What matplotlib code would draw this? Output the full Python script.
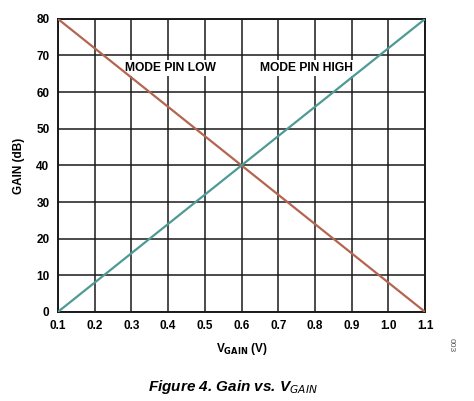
import numpy as np
import matplotlib.pyplot as plt

plt.rcParams['font.family'] = ['Liberation Sans', 'DejaVu Sans']

# data
v_gain = [0.1, 0.2, 0.3, 0.4, 0.5, 0.6, 0.7, 0.8, 0.9, 1.0, 1.1]
gain_high = [0, 8, 16, 24, 32, 40, 48, 56, 64, 72, 80]
gain_low = [80, 72, 64, 56, 48, 40, 32, 24, 16, 8, 0]
x_ticks = [0.1, 0.2, 0.3, 0.4, 0.5, 0.6, 0.7, 0.8, 0.9, 1.0, 1.1]
y_ticks = [0, 10, 20, 30, 40, 50, 60, 70, 80]

fig = plt.figure(figsize=(4.74, 4.01), dpi=100)
ax = fig.add_axes([0.122, 0.222, 0.775, 0.731])

ax.plot(v_gain, gain_low, color='#b5654f', lw=1.6, zorder=5)
ax.plot(v_gain, gain_high, color='#4e9a96', lw=1.6, zorder=5)

ax.set_xlim(0.1, 1.1)
ax.set_ylim(0, 80)
ax.set_xticks(x_ticks)
ax.set_xticklabels(['%.1f' % t for t in x_ticks])
ax.set_yticks(y_ticks)
ax.grid(True, color='#1a1a1a', lw=1.1)
ax.set_axisbelow(True)
ax.tick_params(length=0, pad=6, labelsize=8.5)
for lab in ax.get_xticklabels() + ax.get_yticklabels():
    lab.set_fontweight('bold')
for s in ax.spines.values():
    s.set_linewidth(1.4)
    s.set_color('#1a1a1a')

box = dict(facecolor='white', edgecolor='none', pad=1.5)
ax.text(0.408, 66.6, 'MODE PIN LOW', ha='center', va='center',
        fontsize=8.7, fontweight='bold', bbox=box, zorder=4)
ax.text(0.776, 66.6, 'MODE PIN HIGH', ha='center', va='center',
        fontsize=8.7, fontweight='bold', bbox=box, zorder=4)

ax.set_ylabel('GAIN (dB)', fontsize=8.5, fontweight='bold', labelpad=8)
ax.set_xlabel(r'V$_{\mathbf{GAIN}}$ (V)', fontsize=8.5, fontweight='bold', labelpad=6)

fig.text(0.491, 0.035, r'Figure 4. Gain vs. V$_{GAIN}$', ha='center', va='center',
         fontsize=11, fontweight='bold', style='italic')
fig.text(0.952, 0.14, '003', rotation=270, ha='center', va='center',
         fontsize=6, color='#555555')

fig.savefig('out.png', dpi=100)
